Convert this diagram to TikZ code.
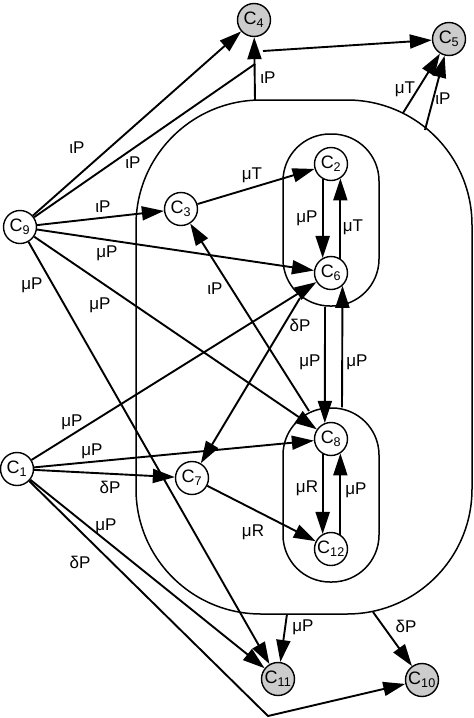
\documentclass[tikz,border=0pt]{standalone}
\usepackage{fontspec}
\setmainfont{Liberation Sans}
\usetikzlibrary{arrows.meta}

\begin{document}
\begin{tikzpicture}[x=1pt, y=-1pt, line join=bevel]

    \useasboundingbox (0,0) rectangle (474,718);

    \tikzset{%
      state_node/.style  = {circle, draw=black, line width=1.4pt, minimum size=33pt,
                            inner sep=0pt, font=\fontsize{18}{18}\selectfont},
      sink_node/.style   = {state_node, fill=gray!40},
      cluster_box/.style = {draw=black, line width=1.5pt, rounded corners=#1, inner sep=0pt},
      flow_edge/.style   = {line width=1.9pt, -{Triangle[length=22pt,width=14pt]}},
      plain_edge/.style  = {line width=1.9pt},
      edge_label/.style  = {font=\fontsize{17}{17}\selectfont, inner sep=0pt}
    }

    % clusters
    \node[cluster_box=125pt, minimum width=336pt, minimum height=514pt] (outer) at (304,357) {};
    \node[cluster_box=47pt,  minimum width=96pt,  minimum height=172pt] (upper) at (331,220) {};
    \node[cluster_box=47pt,  minimum width=96pt,  minimum height=174pt] (lower) at (331,495) {};

    % states
    \node[sink_node]  (C4)  at (254,20)  {C\textsubscript{4}};
    \node[sink_node]  (C5)  at (449,39)  {C\textsubscript{5}};
    \node[state_node] (C9)  at (20,227)  {C\textsubscript{9}};
    \node[state_node] (C3)  at (181,209) {C\textsubscript{3}};
    \node[state_node] (C2)  at (331,164) {C\textsubscript{2}};
    \node[state_node] (C6)  at (331,273) {C\textsubscript{6}};
    \node[state_node] (C8)  at (331,439) {C\textsubscript{8}};
    \node[state_node] (C1)  at (17,469)  {C\textsubscript{1}};
    \node[state_node] (C7)  at (192,478) {C\textsubscript{7}};
    \node[state_node] (C12) at (331,549) {C\textsubscript{12}};
    \node[sink_node]  (C11) at (278,679) {C\textsubscript{11}};
    \node[sink_node]  (C10) at (422,680) {C\textsubscript{10}};

    % free ends on the cluster borders
    \coordinate (j4)   at (255,64);
    \coordinate (o4)   at (255,100);
    \coordinate (s5)   at (263,51);
    \coordinate (o5a)  at (403,113);
    \coordinate (o5b)  at (425,130);
    \coordinate (o11)  at (287,614);
    \coordinate (o10)  at (373,612);
    \coordinate (u7)   at (300,298);
    \coordinate (l3)   at (309,411);
    \coordinate (bend) at (268,716);

    \foreach \src/\dst in {%
      C9/C4, C9/C3, C9/C6, C9/C8, C9/C11, C3/C2,
      C2.241/C6.119, C6.57/C2.303, C8.241/C12.119, C12.57/C8.303,
      C1/C6, C1/C8, C1/C7, C1/C11, C7/C12,
      l3/C3, u7/C7, o4/C4, s5/C5, o5a/C5, o5b/C5, o11/C11, o10/C10%
    }{
      \draw[flow_edge] (\src) -- (\dst);
    }
    \draw[flow_edge] ([xshift=-6pt]upper.south) -- (C8.111);
    \draw[flow_edge] ([xshift=11pt]lower.north) -- (C6.312);
    \draw[flow_edge] (C1) -- (bend) -- (C10);
    \draw[plain_edge] (C9) -- (j4);

    % labels
    \foreach \lname/\lx/\ly/\ltext in {%
      lab_9_4/77/148/ιP,    lab_9_j/133/163/ιP,   lab_o_4/268/78/ιP,
      lab_o_5a/405/89/μT,   lab_o_5b/443/99/ιP,   lab_9_3/103/207/ιP,
      lab_3_2/252/175/μT,   lab_2_6/307/218/μP,   lab_6_2/353/227/μT,
      lab_9_6/107/253/μP,   lab_9_11/32/285/μP,   lab_9_8/100/305/μP,
      lab_l_3/215/289/ιP,   lab_u_7/300/325/δP,   lab_u_8/310/362/μP,
      lab_l_6/357/362/μP,   lab_1_6/72/422/μP,    lab_1_8/92/451/μP,
      lab_1_7/110/487/δP,   lab_1_11/106/526/μP,  lab_1_10/80/562/δP,
      lab_7_12/253/532/μR,  lab_8_12/307/488/μR,  lab_12_8/356/490/μP,
      lab_o_11/303/627/μP,  lab_o_10/406/626/δP%
    }{
      \node[edge_label] (\lname) at (\lx,\ly) {\ltext};
    }

\end{tikzpicture}
\end{document}
